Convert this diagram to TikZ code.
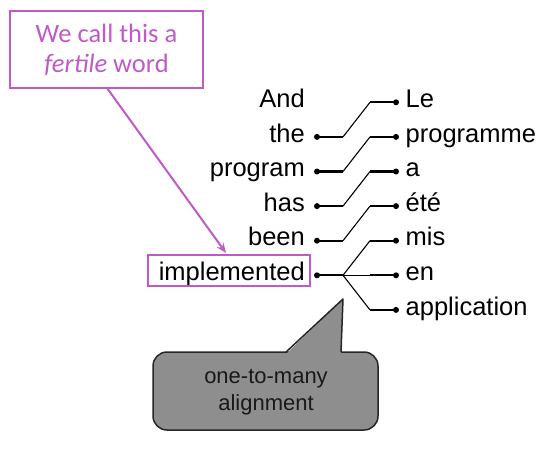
\documentclass[tikz,border=0pt]{standalone}
\usepackage{fontspec}
\setmainfont{Liberation Sans}
\newfontfamily\calfont{Carlito}
\usetikzlibrary{arrows.meta,calc}
\definecolor{purp}{RGB}{192,90,198}
\definecolor{callgray}{RGB}{142,142,142}
\tikzset{
  en/.style={anchor=base east,inner sep=0pt,font=\fontsize{25.5}{28}\selectfont},
  fr/.style={anchor=base west,inner sep=0pt,font=\fontsize{25.5}{28}\selectfont},
  dotc/.style={fill=black},
  thickseg/.style={line width=2.3pt},
  thinseg/.style={line width=1.1pt},
}
\begin{document}
\begin{tikzpicture}[x=1pt,y=-1pt]
\useasboundingbox (0,0) rectangle (543,456);
% English words (baselines)
\node[en] (w1) at (305,107.5) {And};
\node[en] (w2) at (305,142.1) {the};
\node[en] (w3) at (305,176.7) {program};
\node[en] (w4) at (305,211.3) {has};
\node[en] (w5) at (305,245.9) {been};
\node[en] (w6) at (305,280.3) {implemented};
% French words
\node[fr] (f1) at (405.5,107.5) {Le};
\node[fr] (f2) at (405.5,142.1) {programme};
\node[fr] (f3) at (405.5,176.7) {a};
\node[fr] (f4) at (405.5,211.3) {été};
\node[fr] (f5) at (405.5,245.9) {mis};
\node[fr] (f6) at (405.5,280.3) {en};
\node[fr] (f7) at (405.5,315.1) {application};
% dots
\foreach \i/\y in {2/136.9,3/171.5,4/206.1,5/240.7,6/275.3}{
  \coordinate (e\i) at (317,\y);
  \coordinate (em\i) at (343,\y);
  \fill[dotc] (e\i) circle (3);
}
\foreach \j/\y in {1/102.3,2/136.9,3/171.5,4/206.1,5/240.7,6/275.3,7/309.9}{
  \coordinate (d\j) at (396,\y);
  \coordinate (dm\j) at (370,\y);
  \fill[dotc] (d\j) circle (3);
}
% one-to-one links
\foreach \i/\j in {2/1,3/2,4/3,5/4}{
  \draw[thickseg] (e\i) -- (em\i);
  \draw[thinseg] (em\i) -- (dm\j);
  \draw[thickseg] (dm\j) -- (d\j);
}
% one-to-many
\draw[thickseg] (e6) -- (em6);
\draw[thinseg] (em6) -- (dm5);
\draw[thinseg] (em6) -- (dm6);
\draw[thinseg] (em6) -- (dm7);
\draw[thickseg] (dm5) -- (d5);
\draw[thickseg] (dm6) -- (d6);
\draw[thickseg] (dm7) -- (d7);
% implemented box
\node[draw=purp,line width=2.2pt,minimum width=162pt,minimum height=31pt,inner sep=0pt] (ibox) at (229,270.5) {};
% fertile callout
\node[draw=purp,line width=2.2pt,minimum width=193pt,minimum height=77pt,inner sep=0pt] (fbox) at (106.5,49.5) {};
\node[text=purp,font=\calfont\fontsize{26.5}{30}\selectfont,align=center,inner sep=0pt] (ftext) at (106.5,50) {We call this a\\\textit{fertile} word};
\coordinate (fa) at (107,88);
\coordinate (fb) at (226,253);
\draw[purp,line width=2pt,-{Stealth[length=10pt,width=8pt]}] (fa) -- (fb);
% gray callout
\node[draw=black!85,fill=callgray,line width=1.5pt,rounded corners=14pt,minimum width=225pt,minimum height=78pt,inner sep=0pt] (cbox) at (265.5,391) {};
\coordinate (ca) at (286,352);
\coordinate (cb) at (341,352);
\coordinate (cc) at (343,299);
\fill[callgray] ($(ca)+(0,2)$) -- (cc) -- ($(cb)+(0,2)$) -- cycle;
\draw[black!85,line width=1.5pt,line join=round] (ca) -- (cc) -- (cb);
\node[font=\fontsize{22}{27}\selectfont,align=center,inner sep=0pt,text=black!90] (ctext) at (266,392) {one-to-many\\alignment};
\end{tikzpicture}
\end{document}
